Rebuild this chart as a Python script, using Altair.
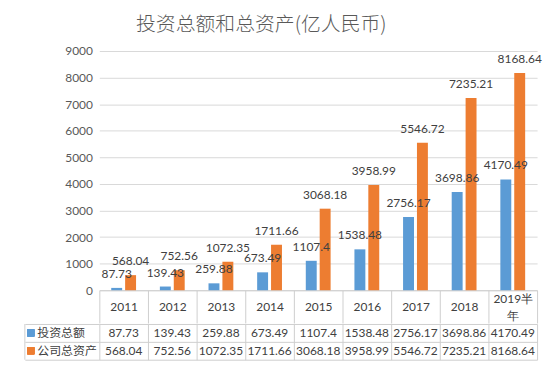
import altair as alt
import pandas as pd

years = ["2011", "2012", "2013", "2014", "2015", "2016", "2017", "2018", "2019半年"]
invest = [87.73, 139.43, 259.88, 673.49, 1107.4, 1538.48, 2756.17, 3698.86, 4170.49]
assets = [568.04, 752.56, 1072.35, 1711.66, 3068.18, 3958.99, 5546.72, 7235.21, 8168.64]
series = ["投资总额", "公司总资产"]
colors = ["#5B9BD5", "#ED7D31"]
y_ticks = [0, 1000, 2000, 3000, 4000, 5000, 6000, 7000, 8000, 9000]
title = "投资总额和总资产(亿人民币)"

rows = []
for yr, a, b in zip(years, invest, assets):
    rows.append({"year": yr, "series": series[0], "value": a, "label": str(a)})
    rows.append({"year": yr, "series": series[1], "value": b, "label": str(b)})
df = pd.DataFrame(rows)

FONT = "Lato"
CJK = "Noto Sans CJK SC"
GRID = "#d9d9d9"
BORDER = "#cfcfcf"
TXT = "#404040"
PLOT_W = 441
PLOT_H = 241
TABLE_H = 36
LEG_W = 75

xscale = alt.Scale(domain=years, paddingInner=0, paddingOuter=0)
color = alt.Color("series:N", scale=alt.Scale(domain=series, range=colors), legend=None)
xoff = alt.XOffset("series:N", scale=alt.Scale(domain=series, paddingInner=0.214, paddingOuter=0.857))

top_x = alt.X(
    "year:N", scale=xscale, sort=years,
    axis=alt.Axis(title=None, labelAngle=0, tickBand="extent", tickSize=33,
                  tickColor=BORDER, domainColor=BORDER,
                  labelPadding={"condition": {"test": "datum.value == '2019半年'", "value": -25},
                                "value": -16.5},
                  labelBaseline="middle", labelFont=FONT, labelFontSize=12,
                  labelColor=TXT, labelLineHeight=17,
                  labelExpr="datum.value == '2019半年' ? ['2019半', '年'] : datum.label"),
)
top_y = alt.Y(
    "value:Q", scale=alt.Scale(domain=[0, 9000], nice=False),
    axis=alt.Axis(title=None, values=y_ticks, format="d", grid=True, gridColor=GRID,
                  domain=False, ticks=False, labelPadding=7, labelFont=FONT,
                  labelFontSize=12, labelColor="#595959"),
)

base = alt.Chart(df)
bars = base.mark_bar().encode(x=top_x, xOffset=xoff, y=top_y, color=color)
vals = base.mark_text(baseline="alphabetic", dy=-10, font=FONT, fontSize=12, color=TXT).encode(
    x=top_x, xOffset=xoff, y=top_y, text="label:N"
)
top = alt.layer(bars, vals).properties(width=PLOT_W, height=PLOT_H)

tab_x = alt.X(
    "year:N", scale=xscale, sort=years,
    axis=alt.Axis(title=None, labels=False, ticks=False, domain=False, grid=True,
                  tickBand="extent", gridColor=BORDER),
)
tab_y = alt.Y(
    "series:N", scale=alt.Scale(domain=series, paddingInner=0, paddingOuter=0), sort=series,
    axis=alt.Axis(title=None, tickBand="extent", tickSize=LEG_W, tickColor=BORDER,
                  domain=False, grid=True, gridColor=BORDER, labelAlign="left",
                  labelPadding=-12, labelFont=CJK, labelFontSize=12, labelColor=TXT),
)
cells = base.mark_text(font=FONT, fontSize=12, color=TXT).encode(x=tab_x, y=tab_y, text="label:N")
squares = base.mark_point(shape="square", filled=True, size=49, opacity=1).encode(
    x=alt.value(-69), y=tab_y, color=color
)
left_edge = alt.Chart(pd.DataFrame({"series": [series[0]]})).mark_rule(color=BORDER).encode(
    x=alt.value(-LEG_W), y=alt.value(0), y2=alt.value(TABLE_H)
)
table = alt.layer(cells, squares, left_edge).properties(width=PLOT_W, height=TABLE_H)

chart = alt.vconcat(top, table, spacing=-6).properties(
    title=alt.TitleParams(text=title, font=CJK, fontSize=20, fontWeight=300,
                          color="#595959", anchor="middle", offset=10, dx=-22),
    padding={"left": 16, "top": 6, "right": 5, "bottom": 5},
).configure_view(stroke=None)

chart.save("out.html", embed_options={"renderer": "svg", "actions": False})
